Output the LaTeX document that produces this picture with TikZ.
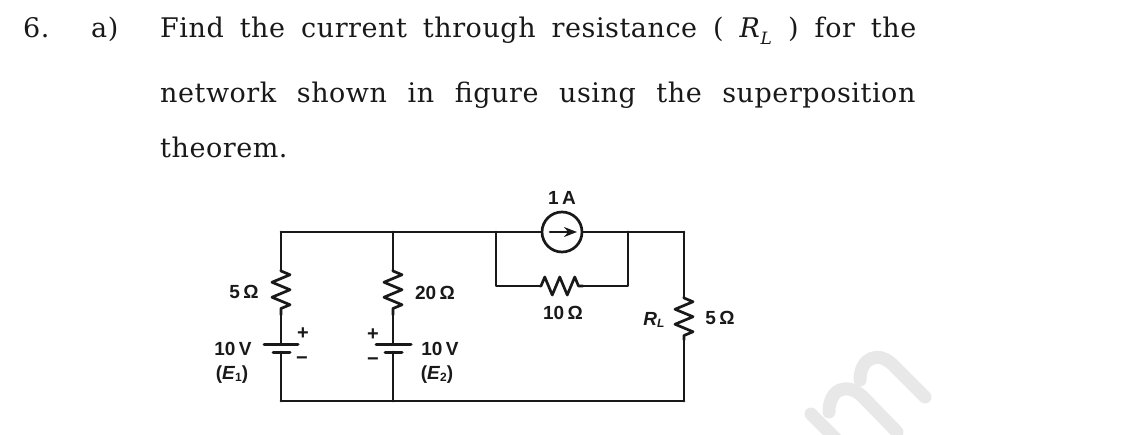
\documentclass[tikz,border=0pt]{standalone}
\usepackage{fontspec}
\setmainfont{DejaVu Serif}[LetterSpace=2]
\newfontfamily\lblfont{Liberation Sans}[Scale=1]
\usetikzlibrary{decorations.pathmorphing,arrows.meta}
\tikzset{
  wire/.style={line width=2.7pt,black!90,line cap=round,line join=round},
  res/.style={wire,decorate,decoration={zigzag,segment length=15pt,amplitude=9pt,pre length=1pt,post length=1pt}},
  plate/.style={wire,line width=3pt},
  body/.style={anchor=base west,inner sep=0pt,font=\fontsize{27}{27}\selectfont,black!90},
  lbl/.style={inner sep=0pt,font=\lblfont\bfseries\fontsize{19}{19}\selectfont,black!90},
  sgn/.style={inner sep=0pt,font=\lblfont\bfseries\fontsize{20}{20}\selectfont,black!90},
  src/.style={circle,draw=black!90,line width=2.7pt,minimum size=40pt,inner sep=0pt},
  wmark/.style={line width=13pt,black!9,line cap=round,line join=round}
}
\newcommand{\lsp}{\hspace{3.5pt}}
\begin{document}
\begin{tikzpicture}[x=1pt,y=-1pt]
\useasboundingbox (0,0) rectangle (1123,435);
% watermark
\begin{scope}
\clip (0,0) rectangle (1123,435);
\draw[wmark] (925,397) -- (893,365) .. controls (878,350) and (860,358) .. (860,380);
\draw[wmark] (897,432) -- (863,397) .. controls (848,382) and (829,388) .. (829,412);
\draw[wmark] (811,414) -- (840,443);
\end{scope}
% text
\node[body] (n6) at (23,38) {6.};
\node[body] (na) at (91,38) {a)};
\node[body] (t1) at (160,38) {\spaceskip=16pt Find the current through resistance ( \textit{R}\raisebox{-7pt}{\fontsize{17}{17}\selectfont\textit{L}} ) for the};
\node[body] (t2) at (160,103) {\spaceskip=20.6pt network shown in figure using the superposition};
\node[body] (t3) at (160,158) {theorem.};
% junctions
\coordinate (tl) at (281,232);
\coordinate (tm) at (393,232);
\coordinate (il) at (496,232);
\coordinate (ir) at (628,232);
\coordinate (tr) at (684,232);
\coordinate (bl) at (281,401);
\coordinate (bm) at (393,401);
\coordinate (br) at (684,401);
\coordinate (ibl) at (496,286);
\coordinate (ibr) at (628,286);
% source
\node[src] (cs) at (562,232) {};
\draw[wire] (tl) -- (tm) -- (il) -- (cs.west);
\draw[wire] (cs.east) -- (ir) -- (tr);
\draw[wire] (bl) -- (bm) -- (br);
\coordinate (arL) at (550,232);
\coordinate (arR) at (577,232);
\draw[wire,-{Stealth[length=13pt,width=10pt]}] (arL) -- (arR);
% inner branch
\coordinate (r3a) at (540,286);
\coordinate (r3b) at (583,286);
\draw[wire] (il) -- (ibl) -- (r3a);
\draw[res] (r3a) -- (r3b);
\draw[wire] (r3b) -- (ibr) -- (ir);
% E1 branch
\coordinate (r1a) at (281,270);
\coordinate (r1b) at (281,315);
\coordinate (p1) at (281,344);
\coordinate (q1) at (281,352);
\draw[wire] (tl) -- (r1a);
\draw[res] (r1a) -- (r1b);
\draw[wire] (r1b) -- (p1);
\coordinate (p1l) at (264,344); \coordinate (p1r) at (298,344);
\coordinate (q1l) at (273,352); \coordinate (q1r) at (290,352);
\draw[plate] (p1l) -- (p1r);
\draw[plate] (q1l) -- (q1r);
\draw[wire] (q1) -- (bl);
% E2 branch
\coordinate (r2a) at (393,270);
\coordinate (r2b) at (393,315);
\coordinate (p2) at (393,344);
\coordinate (q2) at (393,352);
\draw[wire] (tm) -- (r2a);
\draw[res] (r2a) -- (r2b);
\draw[wire] (r2b) -- (p2);
\coordinate (p2l) at (376,344); \coordinate (p2r) at (411,344);
\coordinate (q2l) at (385,352); \coordinate (q2r) at (402,352);
\draw[plate] (p2l) -- (p2r);
\draw[plate] (q2l) -- (q2r);
\draw[wire] (q2) -- (bm);
% RL branch
\coordinate (r4a) at (684,297);
\coordinate (r4b) at (684,340);
\draw[wire] (tr) -- (r4a);
\draw[res] (r4a) -- (r4b);
\draw[wire] (r4b) -- (br);
% labels
\node[lbl] (l1a) at (562,198) {1\lsp A};
\node[lbl] (l10) at (563,313) {10\lsp Ω};
\node[lbl] (l5a) at (244,292) {5\lsp Ω};
\node[lbl] (l20) at (435,293) {20\lsp Ω};
\node[lbl] (lv1) at (233,349) {10\lsp V};
\node[lbl] (le1) at (232,375) {(\textit{E}\raisebox{-2pt}{\fontsize{12}{12}\selectfont 1})};
\node[lbl] (lv2) at (440,349) {10\lsp V};
\node[lbl] (le2) at (437,375) {(\textit{E}\raisebox{-2pt}{\fontsize{12}{12}\selectfont 2})};
\node[lbl] (lrl) at (654,320) {\textit{R}\raisebox{-2pt}{\fontsize{12}{12}\selectfont\textit{L}}};
\node[lbl] (l5b) at (720,318) {5\lsp Ω};
\node[sgn] (pl1) at (303,334) {+};
\node[sgn] (mi1) at (302,361) {−};
\node[sgn] (pl2) at (373,335) {+};
\node[sgn] (mi2) at (373,362) {−};
\end{tikzpicture}
\end{document}
